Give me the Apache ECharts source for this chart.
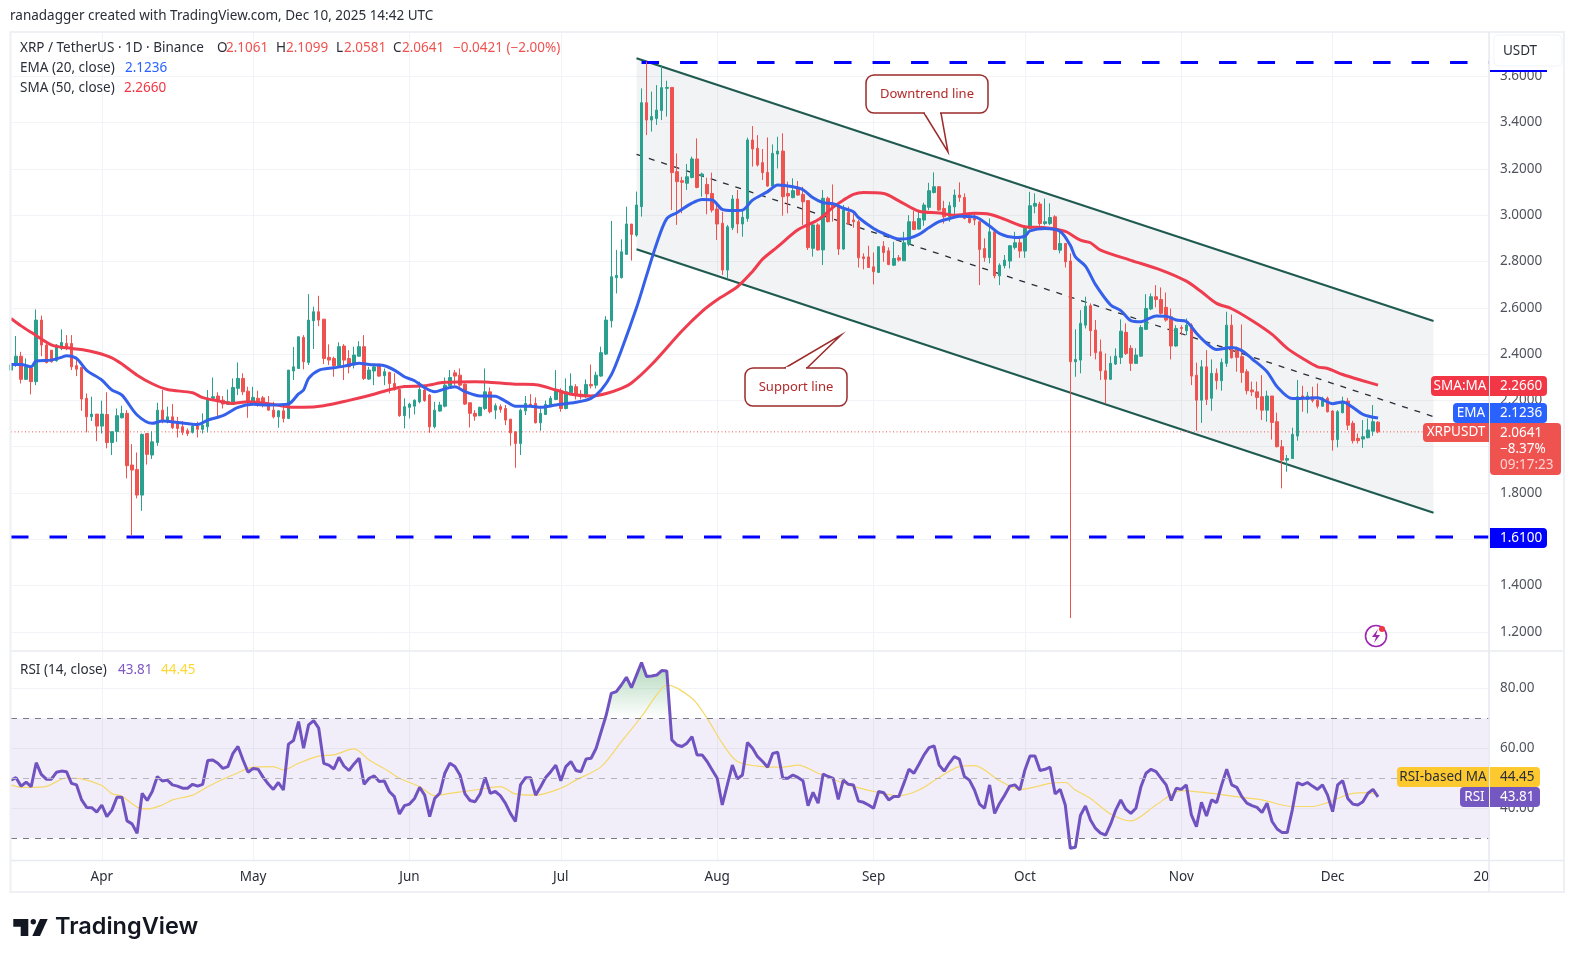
<!DOCTYPE html>
<html><head><meta charset="utf-8">
<style>html,body{margin:0;padding:0;background:#fff}#c{width:1573px;height:957px}</style>
<script src="https://cdn.jsdelivr.net/npm/echarts@6/dist/echarts.min.js"></script>
</head><body><div id="c"></div>
<script>
// ---- values ----
const monthIndex = [18,48,79,109,140,171,201,232,262,293];
const monthLabels = ['Apr','May','Jun','Jul','Aug','Sep','Oct','Nov','Dec','2026'];
const priceTicks = [1.2,1.4,1.6,1.8,2.0,2.2,2.4,2.6,2.8,3.0,3.2,3.4,3.6,3.8];
const rsiTicks = [40,60,80];
// open, close, low, high
const ohlc = [
[2.331,2.353,2.252,2.36],[2.353,2.391,2.345,2.478],[2.391,2.291,2.273,2.41],[2.291,2.345,2.288,2.381],[2.341,2.281,2.226,2.341],
[2.281,2.547,2.266,2.593],[2.547,2.439,2.391,2.566],[2.439,2.363,2.36,2.453],[2.417,2.367,2.363,2.417],[2.371,2.439,2.367,2.443],
[2.425,2.45,2.417,2.507],[2.446,2.429,2.417,2.482],[2.446,2.345,2.331,2.482],[2.35,2.335,2.305,2.389],[2.343,2.206,2.155,2.343],
[2.209,2.129,2.062,2.23],[2.129,2.141,2.111,2.216],[2.141,2.089,2.024,2.141],[2.089,2.141,2.057,2.199],[2.139,2.018,1.993,2.235],
[2.018,2.065,1.964,2.065],[2.065,2.134,2.021,2.165],[2.125,2.144,2.122,2.177],[2.144,1.918,1.863,2.158],[1.921,1.899,1.613,2.011],
[1.902,1.791,1.777,1.975],[1.791,2.053,1.723,2.057],[2.057,1.967,1.923,2.057],[1.964,2.021,1.947,2.067],[2.018,2.158,2.004,2.19],
[2.158,2.108,2.101,2.245],[2.108,2.129,2.101,2.173],[2.129,2.082,2.076,2.184],[2.108,2.079,2.04,2.129],[2.086,2.062,2.05,2.111],
[2.069,2.057,2.046,2.079],[2.062,2.089,2.057,2.101],[2.089,2.075,2.04,2.108],[2.075,2.093,2.057,2.144],[2.086,2.209,2.062,2.245],
[2.209,2.216,2.201,2.299],[2.219,2.194,2.122,2.235],[2.201,2.184,2.165,2.219],[2.183,2.194,2.18,2.247],[2.183,2.256,2.18,2.295],
[2.252,2.295,2.223,2.364],[2.295,2.237,2.223,2.317],[2.24,2.194,2.125,2.259],[2.187,2.213,2.18,2.259],[2.209,2.194,2.173,2.242],
[2.211,2.184,2.17,2.219],[2.183,2.158,2.155,2.219],[2.158,2.129,2.122,2.194],[2.129,2.155,2.082,2.158],[2.155,2.122,2.105,2.187],
[2.122,2.331,2.119,2.331],[2.327,2.345,2.288,2.431],[2.338,2.475,2.338,2.475],[2.472,2.367,2.334,2.482],[2.364,2.547,2.353,2.659],
[2.544,2.583,2.422,2.605],[2.583,2.547,2.521,2.652],[2.551,2.381,2.357,2.551],[2.386,2.374,2.353,2.442],[2.381,2.35,2.302,2.389],
[2.35,2.432,2.345,2.451],[2.435,2.374,2.288,2.443],[2.381,2.345,2.317,2.417],[2.353,2.396,2.338,2.432],[2.391,2.432,2.389,2.456],
[2.432,2.295,2.288,2.482],[2.292,2.331,2.288,2.345],[2.327,2.345,2.266,2.353],[2.357,2.305,2.302,2.357],[2.307,2.324,2.266,2.338],
[2.321,2.273,2.23,2.324],[2.273,2.247,2.242,2.317],[2.247,2.134,2.129,2.247],[2.134,2.173,2.079,2.209],[2.17,2.184,2.122,2.19],
[2.175,2.201,2.139,2.204],[2.194,2.247,2.187,2.281],[2.245,2.199,2.194,2.259],[2.223,2.086,2.06,2.227],[2.086,2.158,2.079,2.194],
[2.154,2.18,2.151,2.194],[2.175,2.266,2.17,2.299],[2.263,2.299,2.259,2.331],[2.319,2.305,2.266,2.331],[2.309,2.266,2.259,2.338],
[2.27,2.184,2.18,2.273],[2.19,2.144,2.083,2.19],[2.144,2.132,2.112,2.158],[2.134,2.17,2.132,2.173],[2.165,2.237,2.158,2.338],
[2.237,2.151,2.144,2.256],[2.158,2.177,2.119,2.187],[2.173,2.161,2.147,2.183],[2.165,2.115,2.093,2.18],[2.119,2.06,2.004,2.119],
[2.065,2.014,1.909,2.065],[2.014,2.158,1.964,2.165],[2.155,2.187,2.137,2.219],[2.184,2.18,2.175,2.227],[2.187,2.103,2.101,2.213],
[2.103,2.144,2.069,2.165],[2.139,2.183,2.137,2.199],[2.18,2.209,2.175,2.219],[2.204,2.242,2.201,2.331],[2.242,2.165,2.151,2.252],
[2.165,2.237,2.161,2.295],[2.233,2.262,2.227,2.317],[2.259,2.223,2.204,2.27],[2.227,2.219,2.204,2.245],[2.216,2.269,2.211,2.291],
[2.269,2.263,2.252,2.355],[2.266,2.309,2.252,2.324],[2.305,2.406,2.302,2.432],[2.4,2.547,2.396,2.564],[2.544,2.734,2.515,2.975],
[2.73,2.74,2.662,2.85],[2.73,2.842,2.727,2.896],[2.831,2.962,2.828,3.037],[2.962,2.917,2.804,2.962],[2.914,3.044,2.907,3.102],
[3.037,3.486,2.994,3.548],[3.486,3.411,3.346,3.663],[3.411,3.426,3.361,3.534],[3.418,3.454,3.39,3.562],[3.452,3.551,3.411,3.649],
[3.548,3.552,3.426,3.581],[3.552,3.184,3.022,3.552],[3.188,3.145,2.958,3.267],[3.149,3.142,3.008,3.166],[3.138,3.166,3.109,3.221],
[3.163,3.243,3.159,3.253],[3.243,3.12,3.116,3.332],[3.169,3.178,3.08,3.184],[3.133,3.092,3.004,3.162],[3.094,3.022,3.012,3.184],
[3.027,2.962,2.893,3.051],[2.965,2.763,2.742,3.015],[2.763,2.95,2.727,2.958],[2.946,3.07,2.936,3.087],[3.07,2.962,2.922,3.109],
[2.962,2.991,2.907,3.022],[2.986,3.325,2.972,3.335],[3.325,3.286,3.21,3.385],[3.289,3.217,3.21,3.346],[3.227,3.184,3.152,3.286],
[3.185,3.126,3.123,3.336],[3.126,3.267,3.123,3.306],[3.264,3.277,3.202,3.339],[3.277,3.08,2.998,3.354],[3.094,3.083,3.008,3.145],
[3.076,3.106,3.073,3.159],[3.12,3.087,3.084,3.148],[3.09,3.058,2.958,3.123],[3.063,2.86,2.85,3.063],[2.857,2.958,2.821,2.965],
[2.958,2.85,2.847,2.965],[2.85,3.073,2.785,3.109],[3.073,2.972,2.969,3.08],[3.048,3.037,2.972,3.133],[3.037,2.854,2.828,3.044],
[2.854,3.022,2.85,3.044],[3.012,2.962,2.958,3.037],[2.979,2.972,2.946,3.015],[2.972,2.816,2.774,2.979],[2.82,2.813,2.766,2.835],
[2.82,2.774,2.773,2.868],[2.777,2.756,2.701,2.839],[2.753,2.864,2.751,2.866],[2.866,2.839,2.799,2.888],[2.846,2.787,2.784,2.861],
[2.784,2.813,2.78,2.885],[2.816,2.806,2.799,2.828],[2.803,2.881,2.802,2.928],[2.875,2.972,2.866,3.0],[2.972,2.938,2.936,3.019],
[2.94,2.986,2.938,3.015],[2.979,3.044,2.954,3.054],[3.034,3.106,3.022,3.14],[3.098,3.123,3.094,3.185],[3.123,3.022,3.019,3.126],
[3.029,2.993,2.964,3.062],[2.993,3.041,2.972,3.058],[3.036,3.087,2.993,3.111],[3.087,3.077,3.058,3.142],[3.077,2.986,2.982,3.094],
[2.986,2.969,2.964,3.0],[2.986,2.979,2.957,3.008],[2.972,2.852,2.698,2.974],[2.856,2.817,2.799,2.9],[2.817,2.928,2.792,2.986],
[2.928,2.738,2.727,2.931],[2.738,2.784,2.698,2.792],[2.782,2.806,2.77,2.828],[2.802,2.868,2.77,2.871],[2.861,2.881,2.852,2.928],
[2.881,2.845,2.816,2.9],[2.845,2.943,2.816,2.957],[2.943,3.041,2.938,3.101],[3.039,3.051,3.008,3.094],[3.048,2.964,2.943,3.058],
[2.964,2.972,2.957,3.072],[2.964,2.99,2.957,3.051],[2.993,2.852,2.849,3.0],[2.849,2.878,2.835,2.928],[2.878,2.799,2.774,2.878],
[2.802,2.367,1.26,2.835],[2.367,2.377,2.302,2.507],[2.374,2.533,2.317,2.59],[2.525,2.607,2.511,2.648],[2.609,2.501,2.391,2.619],
[2.504,2.406,2.377,2.547],[2.41,2.328,2.288,2.463],[2.328,2.291,2.187,2.403],[2.291,2.36,2.288,2.391],[2.357,2.391,2.353,2.425],
[2.386,2.499,2.357,2.55],[2.494,2.403,2.396,2.533],[2.425,2.36,2.327,2.439],[2.36,2.396,2.357,2.425],[2.391,2.515,2.389,2.525],
[2.507,2.597,2.504,2.659],[2.595,2.648,2.59,2.662],[2.648,2.636,2.602,2.698],[2.636,2.576,2.571,2.688],[2.602,2.547,2.54,2.666],
[2.561,2.435,2.377,2.597],[2.435,2.511,2.432,2.525],[2.515,2.511,2.482,2.525],[2.501,2.525,2.482,2.554],[2.525,2.305,2.266,2.533],
[2.309,2.201,2.069,2.363],[2.201,2.345,2.103,2.374],[2.345,2.204,2.18,2.417],[2.209,2.317,2.155,2.377],[2.317,2.285,2.247,2.338],
[2.285,2.364,2.242,2.381],[2.36,2.525,2.345,2.583],[2.525,2.384,2.381,2.571],[2.425,2.386,2.324,2.432],[2.389,2.321,2.276,2.528],
[2.324,2.242,2.226,2.335],[2.245,2.237,2.219,2.281],[2.237,2.213,2.161,2.281],[2.216,2.158,2.115,2.309],[2.158,2.219,2.108,2.242],
[2.219,2.105,2.031,2.219],[2.108,2.0,1.997,2.147],[2.0,1.942,1.82,2.029],[1.942,1.949,1.892,1.964],[1.949,2.053,1.947,2.082],
[2.046,2.216,2.026,2.288],[2.219,2.209,2.151,2.263],[2.204,2.219,2.144,2.237],[2.216,2.199,2.191,2.259],[2.201,2.175,2.165,2.273],
[2.175,2.209,2.173,2.216],[2.209,2.151,2.148,2.216],[2.154,2.029,1.983,2.158],[2.031,2.151,1.997,2.158],[2.147,2.197,2.144,2.216],
[2.197,2.093,2.072,2.211],[2.101,2.026,2.014,2.112],[2.036,2.026,2.014,2.057],[2.033,2.043,1.995,2.115],[2.039,2.072,2.036,2.122],
[2.067,2.108,2.047,2.18],[2.1061,2.0641,2.0581,2.1099]
];
// day index, value
const ema20 = [[0,2.355],[2,2.355],[4,2.345],[5,2.37],[8,2.374],[10,2.386],[11,2.393],[13,2.381],[15,2.33],[18,2.288],[20,2.245],[22,2.223],[25,2.137],[28,2.101],[30,2.111],[33,2.105],[37,2.096],[39,2.115],[42,2.134],[45,2.17],[48,2.183],[51,2.18],[55,2.185],[57,2.228],[58,2.245],[59,2.295],[61,2.33],[64,2.341],[66,2.348],[69,2.36],[71,2.355],[74,2.35],[76,2.331],[78,2.302],[80,2.285],[82,2.255],[84,2.237],[86,2.25],[88,2.259],[90,2.238],[93,2.219],[96,2.218],[98,2.197],[100,2.175],[103,2.175],[105,2.17],[108,2.18],[112,2.192],[115,2.209],[117,2.245],[119,2.31],[121,2.417],[124,2.6],[126,2.74],[128,2.878],[130,2.985],[132,3.011],[135,3.052],[137,3.068],[139,3.066],[141,3.025],[143,3.02],[145,3.022],[147,3.065],[150,3.102],[152,3.13],[155,3.123],[157,3.11],[159,3.075],[161,3.054],[163,3.05],[165,3.03],[167,3.015],[168,2.99],[171,2.943],[173,2.921],[176,2.897],[178,2.9],[180,2.917],[182,2.947],[184,2.972],[186,2.985],[188,2.996],[191,2.993],[194,2.953],[196,2.92],[199,2.904],[201,2.91],[202,2.932],[205,2.943],[208,2.93],[210,2.87],[211,2.82],[213,2.78],[215,2.7],[218,2.612],[220,2.588],[222,2.545],[224,2.54],[227,2.565],[229,2.564],[231,2.547],[233,2.541],[235,2.49],[237,2.447],[239,2.42],[242,2.428],[244,2.415],[246,2.38],[249,2.324],[251,2.259],[254,2.208],[256,2.209],[259,2.211],[262,2.186],[264,2.193],[266,2.17],[268,2.14],[271,2.1236]];
const sma50 = [[0,2.554],[2,2.522],[4,2.494],[8,2.44],[11,2.427],[14,2.42],[17,2.406],[20,2.384],[22,2.357],[25,2.309],[28,2.272],[31,2.247],[36,2.233],[38,2.212],[41,2.198],[44,2.187],[47,2.194],[51,2.186],[55,2.172],[58,2.17],[62,2.177],[67,2.2],[71,2.221],[75,2.246],[78,2.26],[82,2.263],[86,2.278],[92,2.281],[100,2.27],[104,2.268],[108,2.245],[111,2.227],[115,2.219],[118,2.23],[121,2.252],[123,2.275],[127,2.355],[133,2.5],[137,2.585],[140,2.635],[144,2.691],[147,2.757],[149,2.81],[152,2.864],[156,2.937],[160,2.98],[163,3.035],[165,3.065],[167,3.09],[169,3.098],[173,3.094],[176,3.062],[180,3.017],[184,3.01],[187,3.0],[191,3.008],[194,3.004],[197,2.982],[201,2.95],[205,2.946],[209,2.93],[212,2.892],[214,2.881],[216,2.849],[222,2.805],[228,2.763],[233,2.715],[236,2.669],[239,2.619],[242,2.596],[246,2.545],[250,2.485],[253,2.425],[256,2.382],[259,2.345],[261,2.338],[264,2.312],[268,2.285],[271,2.266]];
const rsi = [
49.4,50.2,47.4,48.7,47.2,55.2,51.3,49.7,49.7,52,
52.4,52.2,48.3,47.8,42.8,40.3,40.2,38.7,41.1,37.2,
39.4,43.7,43.7,35.8,34.8,31.7,45,42.6,45.6,50.6,
49.1,49.4,47.8,47.4,46.7,46.7,48,47.4,48,55.9,
56.1,55,53.3,53.9,58.3,60.6,56.1,52,53.3,53,
50.3,48.1,46.3,48.6,46.1,61.4,62.6,68.9,60,67.8,
69.2,66.7,55,54.4,53.1,57,54.1,52.6,54.8,56.7,
48,50,50.8,48.9,49.1,45.6,43.9,38.1,40.9,41.4,
43.3,47,44.4,37.2,43.3,45,51.7,55,53.9,51.1,
44.8,42.6,42.2,44.8,50.3,45,45.6,44.2,
41.7,38.3,35.6,47.8,50.2,50.2,44.4,47.2,50.3,52.2,54.4,49.2,
53.9,55.6,52.6,52.2,56.4,56.7,60,65.6,71.1,78.3,
78.9,81.1,83.7,80.2,84.4,88.6,83.9,84.1,84.4,85.9,85.8,62.8,
61.1,60.6,61.7,63.9,57.8,57.8,55.6,52.8,50,41.1,
47.8,54.4,49.8,51.1,61.9,60,57.2,55.6,53.7,58.3,
58.7,50,50,51.1,50.3,49.2,40.9,45.3,41.7,51.4,
50.6,50,43,49.4,48,47.8,42.4,42,41.1,40,
45.6,45.2,42.8,43.9,43.9,48.3,
53,51.7,54.7,57.8,60.2,60.8,54.4,52.4,55,57.2,56.4,50.6,49.4,46.1,41.4,40,47.8,38.3,41.7,
44.4,47.4,47.8,46.1,52.8,57.4,57.4,52.6,53,53.7,44.8,46.3,41.1,
26.7,27,37.6,40.8,36.1,33.3,31.7,31.1,34.8,39.4,
42.8,39.7,38.3,40,47.2,51.7,53,52.2,50,47.8,
42.6,46.7,46.3,47.8,37.8,33.9,42,37.4,42.8,41.9,
47.8,53,47.8,47,43.9,41.7,40.9,40.3,38.6,41.7,
35.6,33.1,31.9,31.9,39.4,48.6,47.8,48.6,47.4,46.3,
47.8,44.4,38.9,47.8,49.2,43.3,41.4,41.1,42.2,45,46.3,43.81
];
const rsiMa = [[0,47.8],[2,47],[4,47],[7,47.3],[11,50.1],[14,49.8],[18,47.6],[20,44.9],[22,44],[25,40.4],[27,39.8],[30,41.1],[32,42.8],[36,44.4],[39,47.2],[42,49.7],[44,51.1],[48,53.7],[52,53.9],[54,52.8],[57,55],[61,57.4],[64,57.8],[68,59.8],[71,56.1],[75,52.2],[77,50],[81,47.2],[84,44.2],[87,45],[92,46.1],[97,47.2],[100,44.8],[104,44.4],[109,46.7],[112,49.4],[117,53.9],[121,62.2],[125,70.6],[128,77.8],[130,81.1],[135,76.7],[138,70],[141,61.7],[144,55.6],[149,53.9],[153,53.7],[156,54.4],[160,51.7],[166,47.8],[171,45.6],[176,44.2],[180,46.1],[184,50.3],[188,53.9],[191,54.2],[196,49.2],[200,46.3],[206,48.3],[209,48.6],[211,46.1],[214,43.3],[218,38.1],[222,35.8],[227,41.1],[232,45.9],[238,45],[243,43.9],[248,42.8],[254,40.6],[258,40.6],[261,41.9],[266,45],[269,45.2],[271,44.45]];
const channelDays = [124,282];
const channelTop = [3.678,2.543];
const channelMid = [3.263,2.13];
const channelBottom = [2.853,1.715];
const resistanceLevel = 3.66;
const supportLevel = 1.61;
const lastPrice = 2.0641;

// ---- helpers ----
const FONT = '"Noto Sans", sans-serif';
const DARK = '#2a2e39';
const G = [];
function rect(x,y,w,h,fill,r,stroke,lw,z){G.push({type:'rect',silent:true,z:z||100,shape:{x,y,width:w,height:h,r:r||0},style:{fill:fill||'transparent',stroke:stroke||null,lineWidth:lw||0}});}
function text(x,y,t,fill,o){o=o||{};G.push({type:'text',silent:true,z:o.z||110,x,y,style:{text:t,fill,font:(o.weight||'400')+' '+(o.size||13.5)+'px '+(o.font||FONT),textAlign:o.align||'left',textVerticalAlign:'middle'}});}
function line(x1,y1,x2,y2,c,w,z){G.push({type:'line',silent:true,z:z||100,shape:{x1,y1,x2,y2},style:{stroke:c,lineWidth:w||1}});}
function poly(pts,fill,stroke,lw,z){G.push({type:'polygon',silent:true,z:z||100,shape:{points:pts},style:{fill,stroke:stroke||null,lineWidth:lw||0}});}

const AX=1489;
// frame
rect(AX+1,0,84,31,'#fff',0,null,0,90);
rect(AX+1,861,84,30,'#fff',0,null,0,90);
rect(10.5,32,1553.5,860,'transparent',0,'#eef0f4',2,95);
line(11,651,1564,651,'#eef0f4',2,95);
line(11,860.5,1564,860.5,'#e8eaf0',1.5,95);
line(AX,32,AX,892,'#e8eaf0',1.5,95);
// header + legends
text(10,16,'ranadagger created with TradingView.com, Dec 10, 2025 14:42 UTC',DARK);
text(20,48,'XRP / TetherUS · 1D · Binance',DARK);
text(217,48,'O',DARK);text(226,48,'2.1061','#ef5350');
text(276,48,'H',DARK);text(286,48,'2.1099','#ef5350');
text(336,48,'L',DARK);text(344,48,'2.0581','#ef5350');
text(393,48,'C',DARK);text(402,48,'2.0641','#ef5350');
text(453,48,'−0.0421 (−2.00%)','#ef5350');
text(20,68,'EMA (20, close)',DARK);text(125,68,'2.1236','#2962ff');
text(20,88,'SMA (50, close)',DARK);text(124,88,'2.2660','#f23645');
text(20,670,'RSI (14, close)',DARK);text(118,670,'43.81','#7e57c2');text(161,670,'44.45','#fdd835');
// right axis tags
line(AX+1,71,1547,71,'#0000ff',2,100);
rect(1494,35,68,31,'#fff',5,'#f0f3fa',1,104);
text(1520,51,'USDT',DARK,{align:'center'});
function tag(lx,rx,y,h,fill,name,val,tc){
  rect(lx,y,AX-lx,h,fill,[4,0,0,4],null,0,105);
  rect(AX+1,y,rx-AX-1,h,fill,[0,4,4,0],null,0,105);
  text((lx+AX)/2,y+h/2,name,tc,{align:'center'});
  text(1500,y+h/2,val,tc);
}
tag(1431,1547,376,20,'#f23645','SMA:MA','2.2660','#fff');
tag(1453,1547,403,20,'#2962ff','EMA','2.1236','#fff');
rect(1423,423,66,19,'#ef5350',[4,0,0,4],null,0,105);
text(1456,432.5,'XRPUSDT','#fff',{align:'center'});
rect(AX+1,423,71,52,'#ef5350',[0,4,4,4],null,0,105);
text(1500,433,'2.0641','#fff');text(1500,449,'−8.37%','#fff');text(1500,465,'09:17:23','#ffd3d2');
rect(AX+1,528,57,20,'#0000ff',[0,4,4,0],null,0,105);text(1500,538,'1.6100','#fff');
tag(1397,1540,767,20,'#fdc92e','RSI-based MA','44.45',DARK);
tag(1460,1540,787,20,'#7457c0','RSI','43.81','#fff');
// callouts
const BR='#9c2b2b';
function callout(x,y,w,h,tail,t){
  poly(tail,'#fff',BR,1.5,100);
  rect(x,y,w,h,'#fff',8,BR,1.5,101);
  const by=tail[0][1];
  line(tail[0][0]+1,by,tail[2][0]-1,by,'#fff',2.5,102);
  text(x+w/2,y+h/2,t,'#b22a2a',{align:'center',size:13});
}
callout(866,75,122,38,[[924,113],[948,152],[941,113]],'Downtrend line');
callout(745,368,102,38,[[785,368],[841,335],[807,368]],'Support line');
// flash icon
G.push({type:'circle',silent:true,z:100,shape:{cx:1376,cy:636,r:10.5},style:{fill:'#fff',stroke:'#9c27b0',lineWidth:1.6}});
poly([[1378,629],[1372,637],[1376,637],[1374,643],[1380,635],[1376,635]],'#9c27b0');
G.push({type:'circle',silent:true,z:101,shape:{cx:1382,cy:629,r:3},style:{fill:'#f23645'}});
// TradingView logo
poly([[13.3,919],[28.3,919],[28.3,936],[20.7,936],[20.7,926.7],[13.3,926.7]],'#131722');
G.push({type:'circle',silent:true,z:100,shape:{cx:33.3,cy:921.7,r:2.7},style:{fill:'#131722'}});
poly([[40,919],[47.7,919],[40,936],[32.3,936]],'#131722');
text(55,927,'TradingView','#131722',{size:23.5,weight:'600',font:'Inter, sans-serif'});

// ---- chart ----
const dayCount = monthIndex[monthIndex.length-1]+1;
const categories = Array.from({length:dayCount},(_,i)=>new Date(Date.UTC(2025,2,14+i)).toISOString().slice(0,10));
const monthTick = i=>monthIndex.includes(i);
const gridLine = {show:true,interval:monthTick,lineStyle:{color:'#f2f3f6',width:1}};
const twoPts = (a)=>[[channelDays[0],a[0]],[channelDays[1],a[1]]];
const chart = echarts.init(document.getElementById('c'),null,{renderer:'canvas'});
chart.setOption({
  animation:false,backgroundColor:'#fff',
  textStyle:{fontFamily:FONT},
  grid:[{left:11,right:84,top:32,height:619},{left:11,right:84,top:651,height:209}],
  xAxis:[
    {type:'category',gridIndex:0,data:categories,boundaryGap:false,axisLine:{show:false},axisTick:{show:false},axisLabel:{show:false},splitLine:gridLine},
    {type:'category',gridIndex:1,data:categories,boundaryGap:false,axisLine:{show:false},axisTick:{show:false},splitLine:gridLine,
     axisLabel:{interval:monthTick,hideOverlap:false,showMaxLabel:true,margin:10,fontSize:13.5,fontFamily:FONT,color:DARK,
       formatter:(v,i)=>monthLabels[monthIndex.indexOf(i)]}}
  ],
  yAxis:[
    {type:'value',gridIndex:0,position:'right',min:1.1175,max:3.7914,axisLine:{show:false},
     axisTick:{show:false,customValues:priceTicks},splitLine:{show:true,lineStyle:{color:'#f2f3f6'}},
     axisLabel:{customValues:priceTicks,margin:11,fontSize:13.5,fontFamily:FONT,color:'#50535e',formatter:v=>v.toFixed(4)}},
    {type:'value',gridIndex:1,position:'right',min:22.77,max:92.43,axisLine:{show:false},
     axisTick:{show:false,customValues:rsiTicks},splitLine:{show:true,lineStyle:{color:'#f2f3f6'}},
     axisLabel:{customValues:rsiTicks,margin:11,fontSize:13.5,fontFamily:FONT,color:'#50535e',formatter:v=>v.toFixed(2)}}
  ],
  series:[
    {type:'custom',name:'Channel',xAxisIndex:0,yAxisIndex:0,z:1,silent:true,clip:false,data:[[channelDays[0],channelTop[0]]],
     renderItem:(p,api)=>({type:'polygon',shape:{points:[
        api.coord([channelDays[0],channelTop[0]]),api.coord([channelDays[1],channelTop[1]]),
        api.coord([channelDays[1],channelBottom[1]]),api.coord([channelDays[0],channelBottom[0]])]},
        style:{fill:'rgba(120,123,134,0.095)'}})},
    {type:'line',name:'Channel top',z:2,silent:true,symbol:'none',data:twoPts(channelTop),lineStyle:{color:'#1f5a50',width:2.2}},
    {type:'line',name:'Channel bottom',z:2,silent:true,symbol:'none',data:twoPts(channelBottom),lineStyle:{color:'#1f5a50',width:2.2}},
    {type:'line',name:'Channel mid',z:2,silent:true,symbol:'none',data:twoPts(channelMid),lineStyle:{color:'#2a2e39',width:1.3,type:[6,7]}},
    {type:'line',name:'Resistance',z:2,silent:true,symbol:'none',data:[[125,resistanceLevel],[293,resistanceLevel]],lineStyle:{color:'#0000ff',width:3,type:[17.5,21]}},
    {type:'line',name:'Support',z:2,silent:true,symbol:'none',data:[[0,supportLevel],[293,supportLevel]],lineStyle:{color:'#0000ff',width:3,type:[17.5,21]}},
    {type:'line',name:'Last',z:2,silent:true,symbol:'none',data:[[0,lastPrice],[293,lastPrice]],lineStyle:{color:'#ef5350',width:1,type:[1,2.5]}},
    {type:'candlestick',name:'XRPUSDT',xAxisIndex:0,yAxisIndex:0,z:3,silent:true,barWidth:3,data:ohlc,
     itemStyle:{color:'#2aa08e',color0:'#ef5350',borderColor:'#2aa08e',borderColor0:'#ef5350',borderWidth:1}},
    {type:'line',name:'SMA 50',z:4,silent:true,symbol:'none',smooth:0.3,connectNulls:true,data:sma50,lineStyle:{color:'#ef3d50',width:3}},
    {type:'line',name:'EMA 20',z:5,silent:true,symbol:'none',smooth:0.3,connectNulls:true,data:ema20,lineStyle:{color:'#3560ea',width:3}},
    {type:'line',name:'RSI fill',xAxisIndex:1,yAxisIndex:1,z:2,silent:true,symbol:'none',
     data:rsi.map((v,i)=>i>=117&&i<=131?Math.max(v,70):null),lineStyle:{width:0},
     areaStyle:{origin:70,color:new echarts.graphic.LinearGradient(0,0,0,1,[{offset:0,color:'rgba(67,160,90,0.6)'},{offset:1,color:'rgba(67,160,90,0)'}])}},
    {type:'line',name:'RSI MA',xAxisIndex:1,yAxisIndex:1,z:3,silent:true,symbol:'none',smooth:0.3,data:rsiMa,lineStyle:{color:'#f6d868',width:1.2}},
    {type:'line',name:'RSI',xAxisIndex:1,yAxisIndex:1,z:4,silent:true,symbol:'none',data:rsi,lineStyle:{color:'#7052c0',width:3},
     markArea:{silent:true,itemStyle:{color:'rgba(126,87,194,0.1)'},data:[[{yAxis:70},{yAxis:30}]]},
     markLine:{silent:true,symbol:'none',label:{show:false},data:[
       {yAxis:70,lineStyle:{color:'#787b86',type:[6,6],width:1}},
       {yAxis:50,lineStyle:{color:'#b4b6be',type:[6,6],width:1}},
       {yAxis:30,lineStyle:{color:'#787b86',type:[6,6],width:1}}]}}
  ],
  graphic:{elements:G}
});
</script></body></html>
